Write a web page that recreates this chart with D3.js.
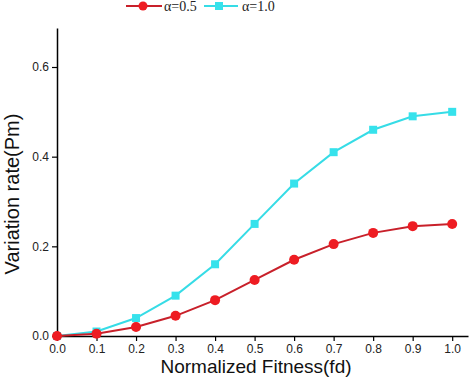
<!DOCTYPE html>
<html>
<head>
<meta charset="utf-8">
<script src="https://cdn.jsdelivr.net/npm/d3@7"></script>
<style>
	body { margin: 0; background: #fff; }
	svg text { font-family: "Liberation Sans", Arial, sans-serif; }
</style>
</head>
<body>
<div id="chart"></div>
<script>
// values
var fitness = [0.0, 0.1, 0.2, 0.3, 0.4, 0.5, 0.6, 0.7, 0.8, 0.9, 1.0];
var rateA05 = [0.0, 0.005, 0.02, 0.045, 0.08, 0.125, 0.17, 0.205, 0.23, 0.245, 0.25];
var rateA10 = [0.0, 0.01, 0.04, 0.09, 0.16, 0.25, 0.34, 0.41, 0.46, 0.49, 0.5];
var xTicks = [0.0, 0.1, 0.2, 0.3, 0.4, 0.5, 0.6, 0.7, 0.8, 0.9, 1.0];
var yTicks = [0.0, 0.2, 0.4, 0.6];
var seriesNames = ["\u03b1=0.5", "\u03b1=1.0"];

var W = 474, H = 378;
var svg = d3.select("#chart").append("svg").attr("width", W).attr("height", H);

var x = d3.scaleLinear().domain([0, 1.04]).range([57, 468]);
var y = d3.scaleLinear().domain([0, 0.687]).range([336, 28]);

// axes
var xAxis = svg.append("g").attr("transform", "translate(0,336)")
	.call(d3.axisBottom(x).tickValues(xTicks).tickFormat(d3.format(".1f")).tickSize(5).tickSizeOuter(0));
var yAxis = svg.append("g").attr("transform", "translate(57,0)")
	.call(d3.axisLeft(y).tickValues(yTicks).tickFormat(d3.format(".1f")).tickSize(5).tickSizeOuter(0));

[xAxis, yAxis].forEach(function (g) {
	g.select(".domain").attr("stroke", "#000").attr("stroke-width", 1.5);
	g.selectAll(".tick line").attr("stroke", "#000").attr("stroke-width", 1.2);
	g.selectAll(".tick text").attr("fill", "#222").style("font-size", "12px")
		.style("font-family", "'Liberation Sans', Arial, sans-serif");
});
xAxis.selectAll(".tick text").attr("dy", "0.9em").attr("y", 6);
yAxis.selectAll(".tick text").attr("x", -8);

// axis titles
svg.append("text").attr("x", 256).attr("y", 373).attr("text-anchor", "middle")
	.style("font-size", "19px").attr("fill", "#111").text("Normalized Fitness(fd)");
svg.append("text").attr("transform", "translate(19,194) rotate(-90)").attr("text-anchor", "middle")
	.style("font-size", "20px").attr("fill", "#111").text("Variation rate(Pm)");

var line = d3.line().x(function (d, i) { return x(fitness[i]); }).y(function (d) { return y(d); });

// alpha = 1.0 (cyan squares)
svg.append("path").datum(rateA10).attr("d", line)
	.attr("fill", "none").attr("stroke", "#36dce6").attr("stroke-width", 2);
svg.selectAll(".sq").data(rateA10).enter().append("rect")
	.attr("x", function (d, i) { return x(fitness[i]) - 4; })
	.attr("y", function (d) { return y(d) - 4; })
	.attr("width", 8).attr("height", 8).attr("fill", "#36e2ec");

// alpha = 0.5 (red circles)
svg.append("path").datum(rateA05).attr("d", line)
	.attr("fill", "none").attr("stroke", "#c8202a").attr("stroke-width", 2);
svg.selectAll(".dot").data(rateA05).enter().append("circle")
	.attr("cx", function (d, i) { return x(fitness[i]); })
	.attr("cy", function (d) { return y(d); })
	.attr("r", 5).attr("fill", "#ee1c22");

// legend
var lg = svg.append("g").attr("transform", "translate(0,6)");
lg.append("line").attr("x1", 126).attr("x2", 162).attr("y1", 0).attr("y2", 0)
	.attr("stroke", "#c8202a").attr("stroke-width", 2);
lg.append("circle").attr("cx", 143).attr("cy", 0).attr("r", 4.5).attr("fill", "#ee1c22");
lg.append("text").attr("x", 164).attr("y", 5).style("font-size", "14px")
	.style("font-family", "'Liberation Serif', 'Times New Roman', serif").attr("fill", "#222").text(seriesNames[0]);
lg.append("line").attr("x1", 204).attr("x2", 238).attr("y1", 0).attr("y2", 0)
	.attr("stroke", "#36dce6").attr("stroke-width", 2);
lg.append("rect").attr("x", 215).attr("y", -4).attr("width", 8).attr("height", 8).attr("fill", "#36e2ec");
lg.append("text").attr("x", 242).attr("y", 5).style("font-size", "14px")
	.style("font-family", "'Liberation Serif', 'Times New Roman', serif").attr("fill", "#222").text(seriesNames[1]);
</script>
</body>
</html>
